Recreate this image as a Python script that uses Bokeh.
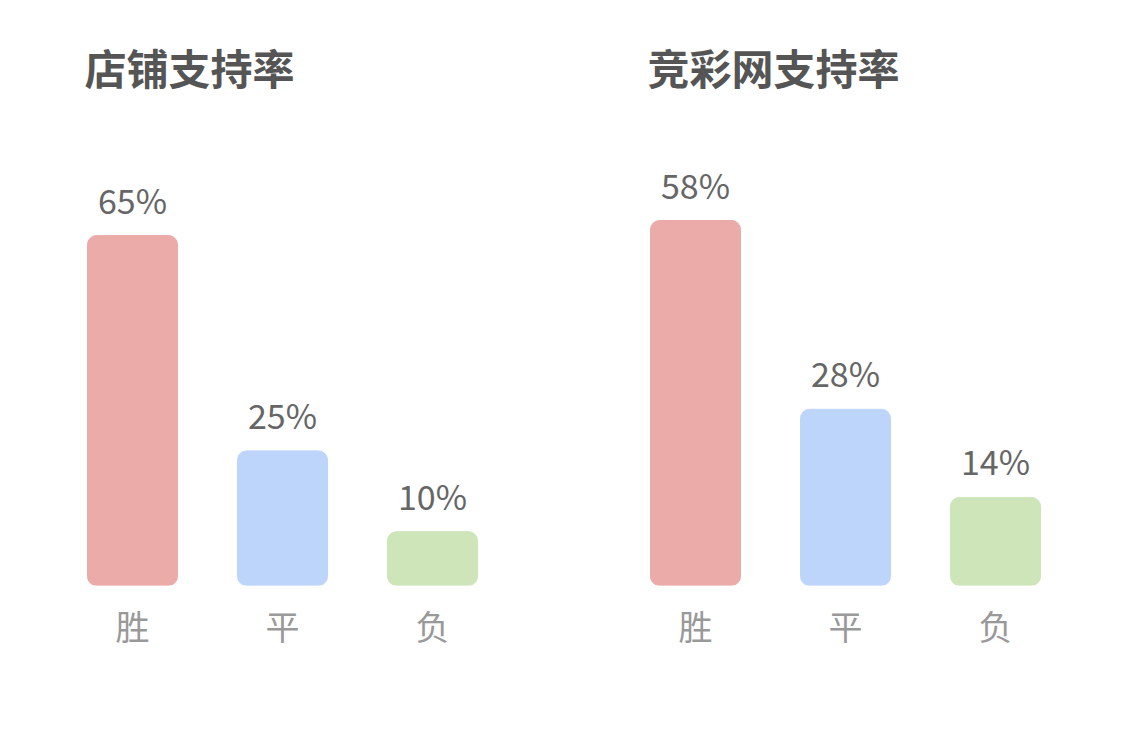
from bokeh.plotting import figure
from bokeh.models import ColumnDataSource, FactorRange, Range1d, Label
from bokeh.layouts import row, column
from bokeh.core.properties import value
from bokeh.embed import file_html
from bokeh.resources import INLINE

# data
categories = ["胜", "平", "负"]
shop_values = [65, 25, 10]
lottery_values = [58, 28, 14]
titles = ["店铺支持率", "竞彩网支持率"]
bar_colors = ["#EAABA9", "#BDD5FB", "#CDE5B8"]

FONT = "Noto Sans CJK SC"
PAD = 0.3          # range padding in category units
UNIT = 150         # px per category
FRAME_H = 577      # frame height (page y 8..585)
MAX_BAR_PX = [350, 365]  # pixel height of the tallest bar in each panel


def panel(title, vals, max_px, border_left):
    src = ColumnDataSource(dict(
        cat=categories, val=vals, color=bar_colors,
        lbl=["%d%%" % v for v in vals]))
    frame_w = int((len(categories) + 2 * PAD) * UNIT)
    p = figure(x_range=FactorRange(*categories, range_padding=PAD,
                                   range_padding_units="absolute"),
               y_range=Range1d(0, max(vals) * FRAME_H / max_px),
               width=frame_w + border_left, height=729,
               output_backend="svg", toolbar_location=None,
               min_border_left=border_left, min_border_right=0,
               min_border_top=8, min_border_bottom=144)
    p.vbar(x="cat", top="val", width=0.6, color="color", source=src,
           border_radius=9)
    p.text(x="cat", y="val", text="lbl", source=src, y_offset=-12,
           text_align="center", text_baseline="bottom",
           text_font=value(FONT), text_font_size="34px", text_color="#666666")
    p.add_layout(Label(x=72, y=519, x_units="screen", y_units="screen",
                       text=title, text_font=FONT, text_font_size="42px",
                       text_font_style="bold", text_color="#555555",
                       text_baseline="middle"))
    p.yaxis.visible = False
    p.xaxis.axis_line_color = None
    p.xaxis.major_tick_line_color = None
    p.xaxis.major_label_text_font = FONT
    p.xaxis.major_label_text_font_size = "34px"
    p.xaxis.major_label_text_color = "#999999"
    p.xaxis.major_label_standoff = 9
    p.xgrid.visible = False
    p.ygrid.visible = False
    p.outline_line_color = None
    return p


p1 = panel(titles[0], shop_values, MAX_BAR_PX[0], 12)
p2 = panel(titles[1], lottery_values, MAX_BAR_PX[1], 23)

# thin grey strip along the bottom edge
strip = figure(width=1125, height=6, output_backend="svg",
               toolbar_location=None, min_border=0,
               background_fill_color="#F3F3F8", border_fill_color="#F3F3F8")
strip.axis.visible = False
strip.grid.visible = False
strip.outline_line_color = None

p = column(row(p1, p2), strip, spacing=0)

open("out.html", "w").write(file_html(p, INLINE))
